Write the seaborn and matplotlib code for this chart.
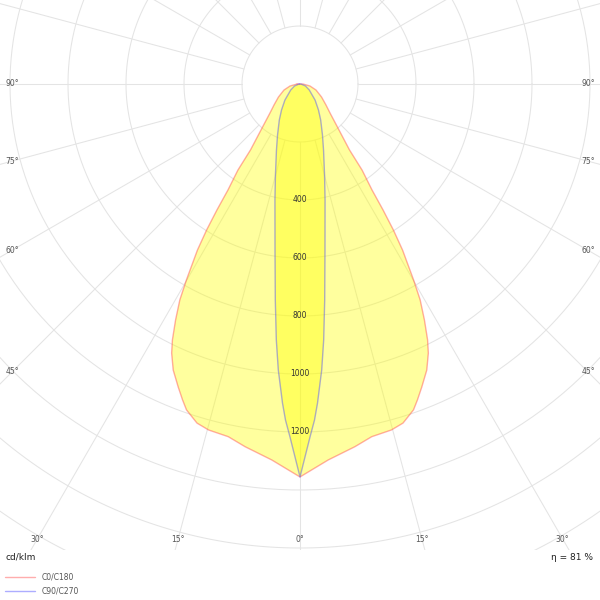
import numpy as np
import matplotlib
matplotlib.use("Agg")
import matplotlib.pyplot as plt
import seaborn as sns

# luminous intensity (cd/klm) against gamma angle (deg)
c0_angles = [0, 4.3, 8.6, 11.5, 14.8, 16.9, 19.2, 20.4, 21.9, 23.9, 25.5, 26.5,
             27.8, 29.1, 30.1, 31.7, 32.6, 33.4, 34.2, 35.8, 36.9, 40.3, 46.0,
             51.1, 58.8, 69.4, 78.7, 90]
c0_values = [1355, 1300, 1265, 1241, 1234, 1222, 1190, 1162, 1126, 1079, 1028, 986,
             920, 852, 781, 673, 598, 520, 442, 366, 284, 208, 144,
             115, 87, 59, 35, 10]

c90_angles = [0, 0.77, 1.62, 2.47, 3.14, 4.34, 5.29, 6.52, 8.56, 12.2, 15.1,
              19.6, 23.8, 29.9, 35.4, 43.2, 57.2, 70, 90]
c90_values = [1355, 1286, 1218, 1160, 1102, 989, 886, 750, 579, 409, 325,
              242, 192, 143, 110, 76, 38, 20, 3]

ring_values = [200, 400, 600, 800, 1000, 1200, 1400, 1600, 1800, 2000]
ring_labels = [400, 600, 800, 1000, 1200]
spoke_angles = list(range(0, 360, 15))
bottom_label_angles = [0, 15, 30]
side_label_angles = [45, 60, 75, 90]
efficiency = 81

PX = 200 / 58  # cd/klm per pixel


def to_xy(angles, values):
    a = np.asarray(angles, float)
    v = np.asarray(values, float)
    ang = np.radians(np.concatenate([-a[::-1], a[1:], [-a[-1]]]))
    r = np.concatenate([v[::-1], v[1:], [v[-1]]])
    return r * np.sin(ang), -r * np.cos(ang)


sns.set_theme(style="white")
plt.rcParams["font.family"] = ["DejaVu Sans"]

fig = plt.figure(figsize=(6, 6), dpi=100)
ax = fig.add_axes([0, 1 - 550 / 600, 1, 550 / 600])
ax.set_xlim(-300 * PX, 300 * PX)
ax.set_ylim(-(550 - 84) * PX, 84 * PX)
ax.axis("off")

# polar grid
t = np.linspace(0, 2 * np.pi, 400)
for rv in ring_values:
    ax.plot(rv * np.cos(t), rv * np.sin(t), color="#e4e4e4", lw=0.75, zorder=1)
for sa in spoke_angles:
    s = np.radians(sa)
    rr = np.array([200, 2200])
    ax.plot(rr * np.sin(s), -rr * np.cos(s), color="#e4e4e4", lw=0.75, zorder=1)

curves = [("C0/C180", c0_angles, c0_values, "#ff4a4a"),
          ("C90/C270", c90_angles, c90_values, "#4a4aff")]
for name, ang, val, col in curves:
    x, y = to_xy(ang, val)
    ax.fill(x, y, color=(1, 1, 0), alpha=0.38, lw=0, zorder=2)
for name, ang, val, col in curves:
    x, y = to_xy(ang, val)
    sns.lineplot(x=x, y=y, sort=False, estimator=None, color=col, alpha=0.45,
                 lw=1.0, ax=ax, label=name, zorder=3)

for v in ring_labels:
    ax.text(0, -v, str(v), ha="center", va="center", fontsize=5.5,
            color="#333333", zorder=4)

# angle labels along the frame
for g in bottom_label_angles:
    dy = 455 * PX
    for sgn in ([1] if g == 0 else [-1, 1]):
        ax.text(sgn * dy * np.tan(np.radians(g)), -dy, f"{g}°", ha="center",
                va="center", fontsize=5.5, color="#555555")
for g in side_label_angles:
    dx = 288 * PX
    yy = -dx / np.tan(np.radians(g)) if g != 90 else 0
    for sgn in [-1, 1]:
        ax.text(sgn * dx, yy, f"{g}°", ha="center", va="center",
                fontsize=5.5, color="#555555")

ax.get_legend().remove()
handles, labels = ax.get_legend_handles_labels()
fig.legend(handles, labels, loc="lower left", bbox_to_anchor=(5 / 600, 4 / 600),
           frameon=False, fontsize=5.5, handlelength=3.9, handletextpad=0.9,
           labelspacing=0.75, borderpad=0, borderaxespad=0, labelcolor="#555555")

fig.text(5 / 600, 1 - 557 / 600, "cd/klm", ha="left", va="center",
         fontsize=6.5, color="#222222")
fig.text(593 / 600, 1 - 557 / 600, f"η = {efficiency} %", ha="right",
         va="center", fontsize=6.5, color="#222222")

fig.savefig("out.png", dpi=100)
